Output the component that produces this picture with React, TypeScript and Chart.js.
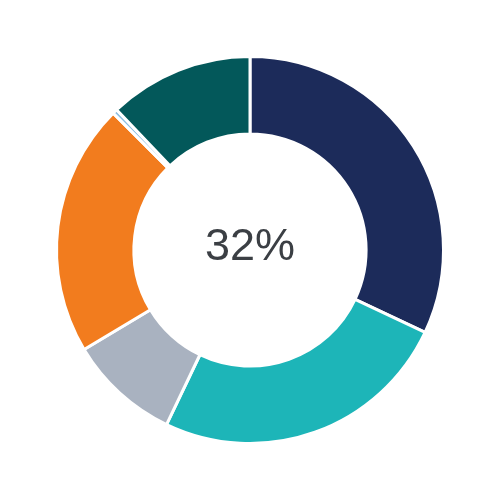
import React, { useEffect, useRef } from "react";
import { Chart, registerables } from "chart.js";

Chart.register(...registerables);

const categories = ["Navy", "Teal", "Gray", "Orange", "Light blue", "Dark teal"];
const values = [32, 25.1, 9.3, 21.1, 0.4, 12.1];
const colors = ["#1c2b5a", "#1db5b8", "#a9b2c0", "#f27c1e", "#8fbfe0", "#03585a"];
const centerLabel = "32%";

const centerText = {
  id: "centerText",
  afterDraw(chart: any) {
    const { ctx } = chart;
    const meta = chart.getDatasetMeta(0);
    const arc = meta.data[0];
    if (!arc) return;
    ctx.save();
    ctx.font = "45px 'Liberation Sans', Arial, sans-serif";
    ctx.fillStyle = "#3b3f44";
    ctx.textAlign = "center";
    ctx.textBaseline = "middle";
    ctx.fillText(centerLabel, arc.x, arc.y - 2);
    ctx.restore();
  },
};

export default function App() {
  const ref = useRef<HTMLCanvasElement>(null);
  useEffect(() => {
    if (!ref.current) return;
    const chart = new Chart(ref.current, {
      type: "doughnut",
      data: {
        labels: categories,
        datasets: [
          {
            data: values,
            backgroundColor: colors,
            borderColor: "#ffffff",
            borderWidth: 3,
          },
        ],
      },
      options: {
        animation: false,
        responsive: false,
        cutout: "60%",
        layout: { padding: 55 },
        plugins: {
          legend: { display: false },
          tooltip: { enabled: false },
        },
      },
      plugins: [centerText],
    });
    return () => chart.destroy();
  }, []);
  return (
    <div style={{ position: "fixed", left: 0, top: 0, width: 500, height: 500, background: "#fff" }}>
      <canvas ref={ref} width={500} height={500} style={{ width: 500, height: 500 }} />
    </div>
  );
}
